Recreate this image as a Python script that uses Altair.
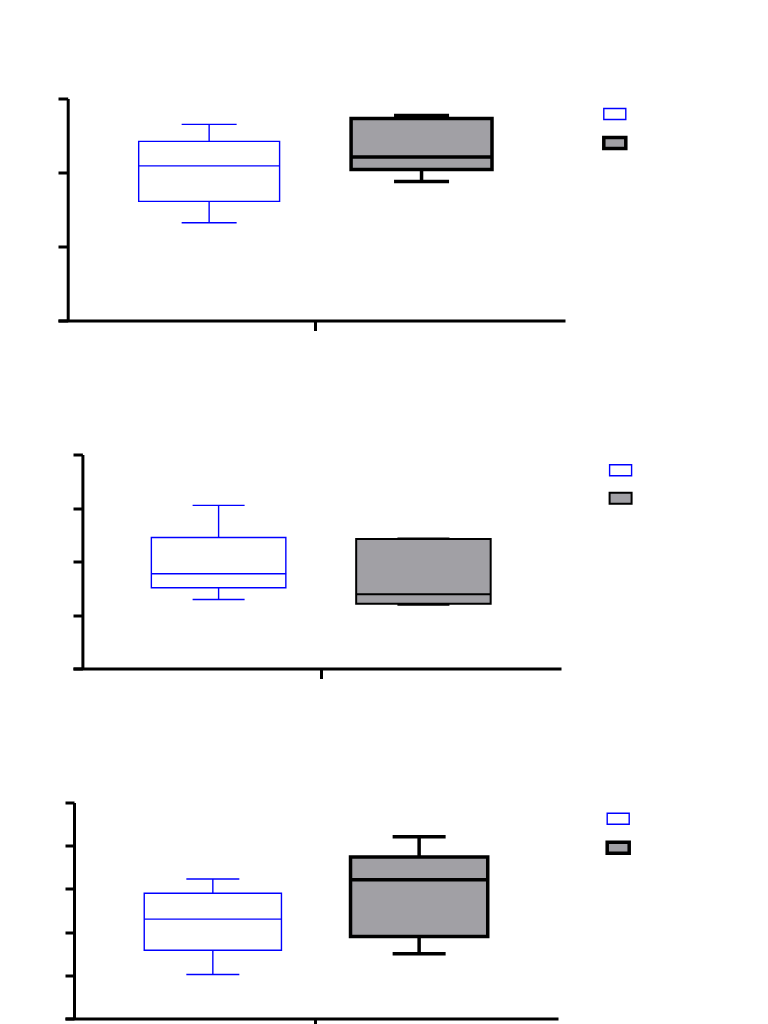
import altair as alt
import pandas as pd

# two groups per panel (no visible labels in the figure)
GROUPS = ["A", "B"]
STATS = ["lo", "q1", "med", "q3", "hi"]

# five-number summaries: min, q1, median, q3, max
P1_A = [1.32, 1.61, 2.09, 2.42, 2.65]
P1_B = [1.88, 2.04, 2.21, 2.73, 2.77]
P2_A = [1.29, 1.51, 1.77, 2.45, 3.05]
P2_B = [1.19, 1.21, 1.39, 2.42, 2.43]
P3_A = [1.02, 1.58, 2.30, 2.90, 3.23]
P3_B = [1.50, 1.90, 3.21, 3.74, 4.21]

# y tick values for each panel
Y_TICKS_1 = [0, 1, 2, 3]
Y_TICKS_2 = [0, 1, 2, 3, 4]
Y_TICKS_3 = [0, 1, 2, 3, 4, 5]

BLUE = "#0000ff"
GRAY = "#a1a0a5"
BLUE_W = 1.4


def panel(a_vals, b_vals, y_ticks, width, height, axis_off,
          outer, align, inner, box_w, cap_w, gray_w, leg_x, leg_y):
    df = pd.DataFrame({"cat": ["c", "c"], "group": GROUPS})
    for i, k in enumerate(STATS):
        df[k] = [a_vals[i], b_vals[i]]

    x = alt.X("cat:N", title=None,
              scale=alt.Scale(paddingInner=0, paddingOuter=outer, align=align),
              axis=alt.Axis(labels=False, tickSize=10))
    xo = alt.XOffset("group:N",
                     scale=alt.Scale(domain=GROUPS, paddingInner=inner, paddingOuter=0))
    yscale = alt.Scale(domain=[0, y_ticks[-1]], nice=False)
    yaxis = alt.Axis(values=y_ticks, labels=False, offset=-axis_off,
                     tickSize=axis_off, minExtent=0)

    def y(field):
        return alt.Y(field, scale=yscale, axis=yaxis, title=None)

    # legend sits in the row group, so its x is counted from the row's left edge
    leg = alt.Legend(orient="none", legendX=leg_x, legendY=leg_y,
                     symbolType="M-1,-0.5H1V0.5H-1Z", symbolSize=484,
                     rowPadding=7, labelExpr="''", symbolOpacity=1)

    base = alt.Chart(df)

    whiskers, medians, caps = [], [], []
    for g, color, sw in [(GROUPS[0], BLUE, BLUE_W), (GROUPS[1], "black", gray_w)]:
        sub = base.transform_filter(alt.datum.group == g)
        whiskers.append(sub.mark_rule(color=color, strokeWidth=sw).encode(
            x=x, xOffset=xo, y=y("lo:Q"), y2="hi:Q"))
        medians.append(sub.mark_tick(color=color, thickness=sw, size=box_w, opacity=1).encode(
            x=x, xOffset=xo, y=y("med:Q")))
        caps.append(sub.transform_fold(["lo", "hi"], as_=["k", "v"]).mark_tick(
            color=color, thickness=sw, size=cap_w, opacity=1).encode(
            x=x, xOffset=xo, y=y("v:Q")))

    boxes = base.mark_rect().encode(
        x=x, xOffset=xo, y=y("q1:Q"), y2="q3:Q",
        fill=alt.Fill("group:N", title=None, legend=leg,
                      scale=alt.Scale(domain=GROUPS, range=["white", GRAY])),
        stroke=alt.Stroke("group:N", title=None, legend=leg,
                          scale=alt.Scale(domain=GROUPS, range=[BLUE, "black"])),
        strokeWidth=alt.StrokeWidth("group:N", title=None, legend=leg,
                                    scale=alt.Scale(domain=GROUPS, range=[BLUE_W, gray_w])),
    )

    return alt.layer(*whiskers, boxes, *medians, *caps).properties(
        width=width, height=height)


def spacer(w):
    # invisible block that pushes a panel to the right inside its row
    return alt.Chart(pd.DataFrame({"s": [0]})).mark_point(opacity=0, size=1).properties(
        width=w, height=1)


p1 = panel(P1_A, P1_B, Y_TICKS_1, 507, 222, 9.7,
           0.2175, 0.525, 0.3366, 141, 55, 3.5, 555.8, 3.5)
p2 = panel(P2_A, P2_B, Y_TICKS_2, 488, 214, 9.4,
           0.2191, 0.527, 0.3434, 135, 52, 2.0, 562.6, 3.7)
p3 = panel(P3_A, P3_B, Y_TICKS_3, 493, 216, 9.0,
           0.2176, 0.530, 0.3348, 137, 53, 3.5, 559.2, 4.3)

rows = [alt.hconcat(spacer(w), p, spacing=0) for w, p in [(10, p1), (25, p2), (17, p3)]]

chart = alt.vconcat(*rows, spacing=120).resolve_scale(
    x="independent", y="independent", xOffset="independent",
    fill="independent", stroke="independent", strokeWidth="independent",
).resolve_legend(
    fill="independent", stroke="independent", strokeWidth="independent",
).properties(
    padding={"left": 38, "top": 88.5, "right": 0, "bottom": 0},
).configure_view(
    stroke=None,
).configure_axis(
    domainColor="black", tickColor="black", domainWidth=3, tickWidth=3, grid=False,
)

chart.save("out.html", embed_options={"renderer": "svg", "actions": False})
